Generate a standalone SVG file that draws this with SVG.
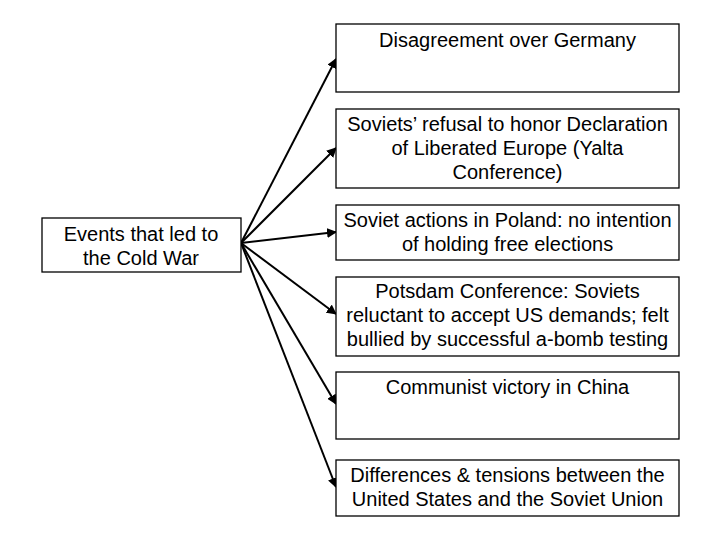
<svg xmlns="http://www.w3.org/2000/svg" width="720" height="540" viewBox="0 0 720 540">
<defs>
<style>
.box{fill:#fff;stroke:#000;stroke-width:1.3}
.t{font-family:"Liberation Sans",Arial,sans-serif;font-size:20px;fill:#000;text-anchor:middle}
.c{stroke:#000;stroke-width:2;fill:none;marker-end:url(#ah)}
</style>
<marker id="ah" viewBox="0 0 10 10" refX="9" refY="5" markerWidth="5" markerHeight="5" orient="auto" markerUnits="strokeWidth">
<path d="M0,0 L10,5 L0,10 z" fill="#000"/>
</marker>
</defs>
<rect width="720" height="540" fill="#fff"/>
<g id="connectors">
<line class="c" x1="241" y1="243" x2="336" y2="59"/>
<line class="c" x1="241" y1="243" x2="336" y2="148"/>
<line class="c" x1="241" y1="243" x2="336" y2="232"/>
<line class="c" x1="241" y1="243" x2="336" y2="314"/>
<line class="c" x1="241" y1="243" x2="336" y2="404"/>
<line class="c" x1="241" y1="243" x2="336" y2="487"/>
</g>
<g id="root">
<rect class="box" x="42" y="218" width="199" height="54"/>
<text class="t" x="141" y="241">Events that led to</text>
<text class="t" x="141" y="265">the Cold War</text>
</g>
<g id="n1">
<rect class="box" x="336" y="24" width="343" height="68"/>
<text class="t" x="507.5" y="47">Disagreement over Germany</text>
</g>
<g id="n2">
<rect class="box" x="336" y="109" width="343" height="79"/>
<text class="t" x="507.5" y="131">Soviets’ refusal to honor Declaration</text>
<text class="t" x="507.5" y="155">of Liberated Europe (Yalta</text>
<text class="t" x="507.5" y="179">Conference)</text>
</g>
<g id="n3">
<rect class="box" x="336" y="205" width="343" height="55"/>
<text class="t" x="507.5" y="226.5">Soviet actions in Poland: no intention</text>
<text class="t" x="507.5" y="250.5">of holding free elections</text>
</g>
<g id="n4">
<rect class="box" x="336" y="277" width="343" height="79"/>
<text class="t" x="507.5" y="298">Potsdam Conference: Soviets</text>
<text class="t" x="507.5" y="322">reluctant to accept US demands; felt</text>
<text class="t" x="507.5" y="346">bullied by successful a-bomb testing</text>
</g>
<g id="n5">
<rect class="box" x="336" y="372" width="343" height="67"/>
<text class="t" x="507.5" y="394">Communist victory in China</text>
</g>
<g id="n6">
<rect class="box" x="336" y="460" width="343" height="56"/>
<text class="t" x="507.5" y="482">Differences &amp; tensions between the</text>
<text class="t" x="507.5" y="506">United States and the Soviet Union</text>
</g>
</svg>
